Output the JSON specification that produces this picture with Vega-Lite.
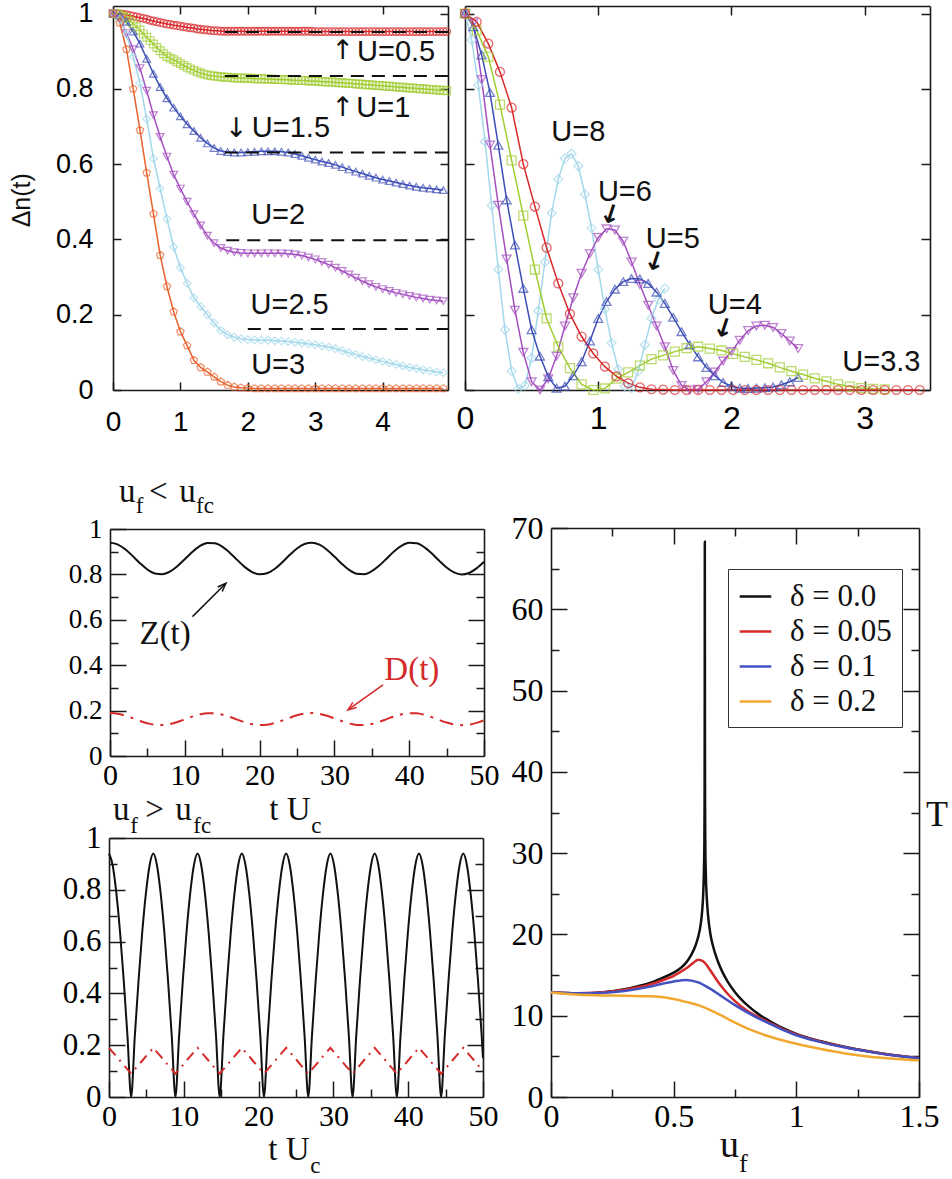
{
"$schema": "https://vega.github.io/schema/vega-lite/v6.json",
"background": "white",
"width": 952, "height": 1179,
"autosize": {"type": "none"},
"padding": 0,
"config": {
  "view": {"stroke": null},
  "axis": {"domain": false, "grid": false, "tickColor": "#1a1a1a", "tickWidth": 1.5, "domainColor": "#1a1a1a", "domainWidth": 1.6, "labelColor": "black", "labelFlush": false, "labelOverlap": false, "labelBound": false}
},
"datasets": {
"tl": [
{"s":"0.5","t":0,"v":1},{"s":"0.5","t":0.05,"v":0.9995},{"s":"0.5","t":0.1,"v":0.999},{"s":"0.5","t":0.15,"v":0.998},{"s":"0.5","t":0.2,"v":0.997},{"s":"0.5","t":0.25,"v":0.995},{"s":"0.5","t":0.3,"v":0.993},{"s":"0.5","t":0.35,"v":0.991},{"s":"0.5","t":0.4,"v":0.989},{"s":"0.5","t":0.45,"v":0.987},{"s":"0.5","t":0.5,"v":0.985},{"s":"0.5","t":0.55,"v":0.982},{"s":"0.5","t":0.6,"v":0.98},{"s":"0.5","t":0.65,"v":0.978},{"s":"0.5","t":0.7,"v":0.976},{"s":"0.5","t":0.75,"v":0.974},{"s":"0.5","t":0.8,"v":0.972},{"s":"0.5","t":0.85,"v":0.971},{"s":"0.5","t":0.9,"v":0.969},{"s":"0.5","t":0.95,"v":0.968},{"s":"0.5","t":1,"v":0.966},{"s":"0.5","t":1.05,"v":0.965},{"s":"0.5","t":1.1,"v":0.963},{"s":"0.5","t":1.15,"v":0.962},{"s":"0.5","t":1.2,"v":0.961},{"s":"0.5","t":1.25,"v":0.959},{"s":"0.5","t":1.3,"v":0.958},{"s":"0.5","t":1.35,"v":0.957},{"s":"0.5","t":1.4,"v":0.956},{"s":"0.5","t":1.45,"v":0.955},{"s":"0.5","t":1.5,"v":0.954},{"s":"0.5","t":1.55,"v":0.954},{"s":"0.5","t":1.6,"v":0.953},{"s":"0.5","t":1.65,"v":0.953},{"s":"0.5","t":1.7,"v":0.953},{"s":"0.5","t":1.75,"v":0.953},{"s":"0.5","t":1.8,"v":0.953},{"s":"0.5","t":1.85,"v":0.953},{"s":"0.5","t":1.9,"v":0.953},{"s":"0.5","t":1.95,"v":0.953},{"s":"0.5","t":2,"v":0.953},{"s":"0.5","t":2.05,"v":0.953},{"s":"0.5","t":2.1,"v":0.953},{"s":"0.5","t":2.15,"v":0.953},{"s":"0.5","t":2.2,"v":0.953},{"s":"0.5","t":2.25,"v":0.953},{"s":"0.5","t":2.3,"v":0.953},{"s":"0.5","t":2.35,"v":0.953},{"s":"0.5","t":2.4,"v":0.953},{"s":"0.5","t":2.45,"v":0.953},{"s":"0.5","t":2.5,"v":0.953},{"s":"0.5","t":2.55,"v":0.953},{"s":"0.5","t":2.6,"v":0.953},{"s":"0.5","t":2.65,"v":0.953},{"s":"0.5","t":2.7,"v":0.953},{"s":"0.5","t":2.75,"v":0.953},{"s":"0.5","t":2.8,"v":0.953},{"s":"0.5","t":2.85,"v":0.953},{"s":"0.5","t":2.9,"v":0.953},{"s":"0.5","t":2.95,"v":0.953},{"s":"0.5","t":3,"v":0.952},{"s":"0.5","t":3.05,"v":0.952},{"s":"0.5","t":3.1,"v":0.952},{"s":"0.5","t":3.15,"v":0.952},{"s":"0.5","t":3.2,"v":0.952},{"s":"0.5","t":3.25,"v":0.952},{"s":"0.5","t":3.3,"v":0.952},{"s":"0.5","t":3.35,"v":0.952},{"s":"0.5","t":3.4,"v":0.952},{"s":"0.5","t":3.45,"v":0.952},{"s":"0.5","t":3.5,"v":0.952},{"s":"0.5","t":3.55,"v":0.952},{"s":"0.5","t":3.6,"v":0.952},{"s":"0.5","t":3.65,"v":0.952},{"s":"0.5","t":3.7,"v":0.952},{"s":"0.5","t":3.75,"v":0.952},{"s":"0.5","t":3.8,"v":0.952},{"s":"0.5","t":3.85,"v":0.952},{"s":"0.5","t":3.9,"v":0.952},{"s":"0.5","t":3.95,"v":0.952},{"s":"0.5","t":4,"v":0.952},{"s":"0.5","t":4.05,"v":0.952},{"s":"0.5","t":4.1,"v":0.952},{"s":"0.5","t":4.15,"v":0.952},{"s":"0.5","t":4.2,"v":0.952},{"s":"0.5","t":4.25,"v":0.952},{"s":"0.5","t":4.3,"v":0.952},{"s":"0.5","t":4.35,"v":0.952},{"s":"0.5","t":4.4,"v":0.952},{"s":"0.5","t":4.45,"v":0.952},{"s":"0.5","t":4.5,"v":0.952},{"s":"0.5","t":4.55,"v":0.952},{"s":"0.5","t":4.6,"v":0.952},{"s":"0.5","t":4.65,"v":0.952},{"s":"0.5","t":4.7,"v":0.952},{"s":"0.5","t":4.75,"v":0.952},{"s":"0.5","t":4.8,"v":0.952},{"s":"0.5","t":4.85,"v":0.952},{"s":"0.5","t":4.9,"v":0.952},{"s":"0.5","t":4.95,"v":0.952},
{"s":"1","t":0,"v":1},{"s":"1","t":0.05,"v":0.999},{"s":"1","t":0.1,"v":0.997},{"s":"1","t":0.15,"v":0.993},{"s":"1","t":0.2,"v":0.988},{"s":"1","t":0.25,"v":0.981},{"s":"1","t":0.3,"v":0.973},{"s":"1","t":0.35,"v":0.965},{"s":"1","t":0.4,"v":0.956},{"s":"1","t":0.45,"v":0.946},{"s":"1","t":0.5,"v":0.937},{"s":"1","t":0.55,"v":0.928},{"s":"1","t":0.6,"v":0.919},{"s":"1","t":0.65,"v":0.91},{"s":"1","t":0.7,"v":0.901},{"s":"1","t":0.75,"v":0.893},{"s":"1","t":0.8,"v":0.886},{"s":"1","t":0.85,"v":0.881},{"s":"1","t":0.9,"v":0.877},{"s":"1","t":0.95,"v":0.872},{"s":"1","t":1,"v":0.867},{"s":"1","t":1.05,"v":0.862},{"s":"1","t":1.1,"v":0.857},{"s":"1","t":1.15,"v":0.853},{"s":"1","t":1.2,"v":0.849},{"s":"1","t":1.25,"v":0.845},{"s":"1","t":1.3,"v":0.842},{"s":"1","t":1.35,"v":0.839},{"s":"1","t":1.4,"v":0.837},{"s":"1","t":1.45,"v":0.835},{"s":"1","t":1.5,"v":0.834},{"s":"1","t":1.55,"v":0.833},{"s":"1","t":1.6,"v":0.832},{"s":"1","t":1.65,"v":0.831},{"s":"1","t":1.7,"v":0.831},{"s":"1","t":1.75,"v":0.83},{"s":"1","t":1.8,"v":0.829},{"s":"1","t":1.85,"v":0.829},{"s":"1","t":1.9,"v":0.829},{"s":"1","t":1.95,"v":0.828},{"s":"1","t":2,"v":0.828},{"s":"1","t":2.05,"v":0.828},{"s":"1","t":2.1,"v":0.827},{"s":"1","t":2.15,"v":0.827},{"s":"1","t":2.2,"v":0.827},{"s":"1","t":2.25,"v":0.826},{"s":"1","t":2.3,"v":0.826},{"s":"1","t":2.35,"v":0.826},{"s":"1","t":2.4,"v":0.825},{"s":"1","t":2.45,"v":0.825},{"s":"1","t":2.5,"v":0.825},{"s":"1","t":2.55,"v":0.824},{"s":"1","t":2.6,"v":0.824},{"s":"1","t":2.65,"v":0.823},{"s":"1","t":2.7,"v":0.823},{"s":"1","t":2.75,"v":0.822},{"s":"1","t":2.8,"v":0.822},{"s":"1","t":2.85,"v":0.822},{"s":"1","t":2.9,"v":0.821},{"s":"1","t":2.95,"v":0.821},{"s":"1","t":3,"v":0.821},{"s":"1","t":3.05,"v":0.82},{"s":"1","t":3.1,"v":0.819},{"s":"1","t":3.15,"v":0.819},{"s":"1","t":3.2,"v":0.818},{"s":"1","t":3.25,"v":0.818},{"s":"1","t":3.3,"v":0.817},{"s":"1","t":3.35,"v":0.816},{"s":"1","t":3.4,"v":0.816},{"s":"1","t":3.45,"v":0.815},{"s":"1","t":3.5,"v":0.815},{"s":"1","t":3.55,"v":0.814},{"s":"1","t":3.6,"v":0.813},{"s":"1","t":3.65,"v":0.813},{"s":"1","t":3.7,"v":0.812},{"s":"1","t":3.75,"v":0.811},{"s":"1","t":3.8,"v":0.811},{"s":"1","t":3.85,"v":0.81},{"s":"1","t":3.9,"v":0.809},{"s":"1","t":3.95,"v":0.809},{"s":"1","t":4,"v":0.808},{"s":"1","t":4.05,"v":0.807},{"s":"1","t":4.1,"v":0.807},{"s":"1","t":4.15,"v":0.806},{"s":"1","t":4.2,"v":0.805},{"s":"1","t":4.25,"v":0.804},{"s":"1","t":4.3,"v":0.804},{"s":"1","t":4.35,"v":0.803},{"s":"1","t":4.4,"v":0.802},{"s":"1","t":4.45,"v":0.802},{"s":"1","t":4.5,"v":0.801},{"s":"1","t":4.55,"v":0.8},{"s":"1","t":4.6,"v":0.8},{"s":"1","t":4.65,"v":0.799},{"s":"1","t":4.7,"v":0.798},{"s":"1","t":4.75,"v":0.798},{"s":"1","t":4.8,"v":0.797},{"s":"1","t":4.85,"v":0.796},{"s":"1","t":4.9,"v":0.796},{"s":"1","t":4.95,"v":0.795},
{"s":"1.5","t":0,"v":1},{"s":"1.5","t":0.1,"v":0.995},{"s":"1.5","t":0.2,"v":0.978},{"s":"1.5","t":0.3,"v":0.952},{"s":"1.5","t":0.4,"v":0.92},{"s":"1.5","t":0.5,"v":0.88},{"s":"1.5","t":0.6,"v":0.84},{"s":"1.5","t":0.7,"v":0.805},{"s":"1.5","t":0.8,"v":0.775},{"s":"1.5","t":0.9,"v":0.75},{"s":"1.5","t":1,"v":0.727},{"s":"1.5","t":1.1,"v":0.706},{"s":"1.5","t":1.2,"v":0.688},{"s":"1.5","t":1.3,"v":0.67},{"s":"1.5","t":1.4,"v":0.655},{"s":"1.5","t":1.5,"v":0.643},{"s":"1.5","t":1.6,"v":0.635},{"s":"1.5","t":1.7,"v":0.632},{"s":"1.5","t":1.8,"v":0.631},{"s":"1.5","t":1.9,"v":0.631},{"s":"1.5","t":2,"v":0.632},{"s":"1.5","t":2.1,"v":0.633},{"s":"1.5","t":2.2,"v":0.634},{"s":"1.5","t":2.3,"v":0.634},{"s":"1.5","t":2.4,"v":0.634},{"s":"1.5","t":2.5,"v":0.633},{"s":"1.5","t":2.6,"v":0.631},{"s":"1.5","t":2.7,"v":0.627},{"s":"1.5","t":2.8,"v":0.622},{"s":"1.5","t":2.9,"v":0.617},{"s":"1.5","t":3,"v":0.612},{"s":"1.5","t":3.1,"v":0.607},{"s":"1.5","t":3.2,"v":0.603},{"s":"1.5","t":3.3,"v":0.598},{"s":"1.5","t":3.4,"v":0.592},{"s":"1.5","t":3.5,"v":0.586},{"s":"1.5","t":3.6,"v":0.58},{"s":"1.5","t":3.7,"v":0.575},{"s":"1.5","t":3.8,"v":0.569},{"s":"1.5","t":3.9,"v":0.564},{"s":"1.5","t":4,"v":0.559},{"s":"1.5","t":4.1,"v":0.555},{"s":"1.5","t":4.2,"v":0.551},{"s":"1.5","t":4.3,"v":0.547},{"s":"1.5","t":4.4,"v":0.543},{"s":"1.5","t":4.5,"v":0.54},{"s":"1.5","t":4.6,"v":0.537},{"s":"1.5","t":4.7,"v":0.535},{"s":"1.5","t":4.8,"v":0.533},{"s":"1.5","t":4.9,"v":0.531},
{"s":"2","t":0,"v":1},{"s":"2","t":0.1,"v":0.985},{"s":"2","t":0.2,"v":0.948},{"s":"2","t":0.3,"v":0.905},{"s":"2","t":0.4,"v":0.855},{"s":"2","t":0.5,"v":0.795},{"s":"2","t":0.6,"v":0.73},{"s":"2","t":0.7,"v":0.672},{"s":"2","t":0.8,"v":0.62},{"s":"2","t":0.9,"v":0.572},{"s":"2","t":1,"v":0.535},{"s":"2","t":1.1,"v":0.5},{"s":"2","t":1.2,"v":0.467},{"s":"2","t":1.3,"v":0.437},{"s":"2","t":1.4,"v":0.41},{"s":"2","t":1.5,"v":0.39},{"s":"2","t":1.6,"v":0.377},{"s":"2","t":1.7,"v":0.37},{"s":"2","t":1.8,"v":0.366},{"s":"2","t":1.9,"v":0.364},{"s":"2","t":2,"v":0.363},{"s":"2","t":2.1,"v":0.363},{"s":"2","t":2.2,"v":0.363},{"s":"2","t":2.3,"v":0.363},{"s":"2","t":2.4,"v":0.363},{"s":"2","t":2.5,"v":0.363},{"s":"2","t":2.6,"v":0.362},{"s":"2","t":2.7,"v":0.36},{"s":"2","t":2.8,"v":0.357},{"s":"2","t":2.9,"v":0.352},{"s":"2","t":3,"v":0.347},{"s":"2","t":3.1,"v":0.34},{"s":"2","t":3.2,"v":0.333},{"s":"2","t":3.3,"v":0.325},{"s":"2","t":3.4,"v":0.316},{"s":"2","t":3.5,"v":0.307},{"s":"2","t":3.6,"v":0.298},{"s":"2","t":3.7,"v":0.289},{"s":"2","t":3.8,"v":0.281},{"s":"2","t":3.9,"v":0.274},{"s":"2","t":4,"v":0.268},{"s":"2","t":4.1,"v":0.263},{"s":"2","t":4.2,"v":0.258},{"s":"2","t":4.3,"v":0.254},{"s":"2","t":4.4,"v":0.25},{"s":"2","t":4.5,"v":0.246},{"s":"2","t":4.6,"v":0.243},{"s":"2","t":4.7,"v":0.24},{"s":"2","t":4.8,"v":0.238},{"s":"2","t":4.9,"v":0.236},
{"s":"2.5","t":0,"v":1},{"s":"2.5","t":0.1,"v":0.985},{"s":"2.5","t":0.2,"v":0.945},{"s":"2.5","t":0.3,"v":0.885},{"s":"2.5","t":0.4,"v":0.815},{"s":"2.5","t":0.5,"v":0.72},{"s":"2.5","t":0.6,"v":0.615},{"s":"2.5","t":0.7,"v":0.535},{"s":"2.5","t":0.8,"v":0.455},{"s":"2.5","t":0.9,"v":0.38},{"s":"2.5","t":1,"v":0.325},{"s":"2.5","t":1.1,"v":0.283},{"s":"2.5","t":1.2,"v":0.245},{"s":"2.5","t":1.3,"v":0.222},{"s":"2.5","t":1.4,"v":0.2},{"s":"2.5","t":1.5,"v":0.178},{"s":"2.5","t":1.6,"v":0.158},{"s":"2.5","t":1.7,"v":0.147},{"s":"2.5","t":1.8,"v":0.14},{"s":"2.5","t":1.9,"v":0.136},{"s":"2.5","t":2,"v":0.134},{"s":"2.5","t":2.1,"v":0.133},{"s":"2.5","t":2.2,"v":0.132},{"s":"2.5","t":2.3,"v":0.132},{"s":"2.5","t":2.4,"v":0.131},{"s":"2.5","t":2.5,"v":0.13},{"s":"2.5","t":2.6,"v":0.129},{"s":"2.5","t":2.7,"v":0.127},{"s":"2.5","t":2.8,"v":0.125},{"s":"2.5","t":2.9,"v":0.122},{"s":"2.5","t":3,"v":0.12},{"s":"2.5","t":3.1,"v":0.117},{"s":"2.5","t":3.2,"v":0.114},{"s":"2.5","t":3.3,"v":0.11},{"s":"2.5","t":3.4,"v":0.104},{"s":"2.5","t":3.5,"v":0.099},{"s":"2.5","t":3.6,"v":0.094},{"s":"2.5","t":3.7,"v":0.089},{"s":"2.5","t":3.8,"v":0.085},{"s":"2.5","t":3.9,"v":0.08},{"s":"2.5","t":4,"v":0.076},{"s":"2.5","t":4.1,"v":0.072},{"s":"2.5","t":4.2,"v":0.068},{"s":"2.5","t":4.3,"v":0.064},{"s":"2.5","t":4.4,"v":0.06},{"s":"2.5","t":4.5,"v":0.057},{"s":"2.5","t":4.6,"v":0.054},{"s":"2.5","t":4.7,"v":0.051},{"s":"2.5","t":4.8,"v":0.048},{"s":"2.5","t":4.9,"v":0.046},
{"s":"3","t":0,"v":1},{"s":"3","t":0.1,"v":0.975},{"s":"3","t":0.2,"v":0.905},{"s":"3","t":0.3,"v":0.8},{"s":"3","t":0.4,"v":0.69},{"s":"3","t":0.5,"v":0.577},{"s":"3","t":0.6,"v":0.468},{"s":"3","t":0.7,"v":0.358},{"s":"3","t":0.8,"v":0.275},{"s":"3","t":0.9,"v":0.208},{"s":"3","t":1,"v":0.155},{"s":"3","t":1.1,"v":0.118},{"s":"3","t":1.2,"v":0.079},{"s":"3","t":1.3,"v":0.06},{"s":"3","t":1.4,"v":0.048},{"s":"3","t":1.5,"v":0.035},{"s":"3","t":1.6,"v":0.022},{"s":"3","t":1.7,"v":0.013},{"s":"3","t":1.8,"v":0.008},{"s":"3","t":1.9,"v":0.006},{"s":"3","t":2,"v":0.005},{"s":"3","t":2.1,"v":0.004},{"s":"3","t":2.2,"v":0.004},{"s":"3","t":2.3,"v":0.004},{"s":"3","t":2.4,"v":0.004},{"s":"3","t":2.5,"v":0.004},{"s":"3","t":2.6,"v":0.004},{"s":"3","t":2.7,"v":0.004},{"s":"3","t":2.8,"v":0.004},{"s":"3","t":2.9,"v":0.004},{"s":"3","t":3,"v":0.004},{"s":"3","t":3.1,"v":0.004},{"s":"3","t":3.2,"v":0.004},{"s":"3","t":3.3,"v":0.004},{"s":"3","t":3.4,"v":0.004},{"s":"3","t":3.5,"v":0.004},{"s":"3","t":3.6,"v":0.004},{"s":"3","t":3.7,"v":0.004},{"s":"3","t":3.8,"v":0.004},{"s":"3","t":3.9,"v":0.004},{"s":"3","t":4,"v":0.004},{"s":"3","t":4.1,"v":0.004},{"s":"3","t":4.2,"v":0.004},{"s":"3","t":4.3,"v":0.004},{"s":"3","t":4.4,"v":0.004},{"s":"3","t":4.5,"v":0.004},{"s":"3","t":4.6,"v":0.004},{"s":"3","t":4.7,"v":0.004},{"s":"3","t":4.8,"v":0.004},{"s":"3","t":4.9,"v":0.004}
],
"tld": [{"a":1.66,"b":4.97,"v":0.951},{"a":1.66,"b":4.97,"v":0.834},{"a":1.66,"b":4.97,"v":0.631},{"a":1.68,"b":4.97,"v":0.398},{"a":2.0,"b":4.97,"v":0.162}],
"tll": [{"x":4.2,"y":0.898,"txt":"U=0.5"},{"x":4.01,"y":0.748,"txt":"U=1"},{"x":2.64,"y":0.695,"txt":"U=1.5"},{"x":2.45,"y":0.465,"txt":"U=2"},{"x":2.62,"y":0.226,"txt":"U=2.5"},{"x":2.45,"y":0.066,"txt":"U=3"}],
"tla": [{"x":3.41,"y":0.9,"txt":"↑"},{"x":3.41,"y":0.75,"txt":"↑"},{"x":1.83,"y":0.693,"txt":"↓"}],
"tly": [{"x":-1.35,"y":0.504,"txt":"Δn(t)"}],
"tr": [
{"s":"8","t":0,"v":1},{"s":"8","t":0.05,"v":0.93},{"s":"8","t":0.1,"v":0.81},{"s":"8","t":0.15,"v":0.66},{"s":"8","t":0.2,"v":0.49},{"s":"8","t":0.25,"v":0.32},{"s":"8","t":0.3,"v":0.16},{"s":"8","t":0.35,"v":0.05},{"s":"8","t":0.4,"v":0.003},{"s":"8","t":0.45,"v":0.012},{"s":"8","t":0.5,"v":0.085},{"s":"8","t":0.55,"v":0.21},{"s":"8","t":0.6,"v":0.34},{"s":"8","t":0.65,"v":0.47},{"s":"8","t":0.7,"v":0.56},{"s":"8","t":0.75,"v":0.615},{"s":"8","t":0.8,"v":0.628},{"s":"8","t":0.85,"v":0.595},{"s":"8","t":0.9,"v":0.52},{"s":"8","t":0.95,"v":0.43},{"s":"8","t":1,"v":0.32},{"s":"8","t":1.05,"v":0.215},{"s":"8","t":1.1,"v":0.125},{"s":"8","t":1.15,"v":0.055},{"s":"8","t":1.2,"v":0.01},{"s":"8","t":1.25,"v":0.005},{"s":"8","t":1.3,"v":0.05},{"s":"8","t":1.35,"v":0.12},{"s":"8","t":1.4,"v":0.19},{"s":"8","t":1.45,"v":0.24},{"s":"8","t":1.5,"v":0.27},
{"s":"6","t":0,"v":1},{"s":"6","t":0.0625,"v":0.975},{"s":"6","t":0.125,"v":0.825},{"s":"6","t":0.1875,"v":0.651},{"s":"6","t":0.25,"v":0.491},{"s":"6","t":0.3125,"v":0.348},{"s":"6","t":0.375,"v":0.212},{"s":"6","t":0.4375,"v":0.1},{"s":"6","t":0.5,"v":0.022},{"s":"6","t":0.5625,"v":0},{"s":"6","t":0.625,"v":0.03},{"s":"6","t":0.6875,"v":0.09},{"s":"6","t":0.75,"v":0.17},{"s":"6","t":0.8125,"v":0.245},{"s":"6","t":0.875,"v":0.31},{"s":"6","t":0.9375,"v":0.362},{"s":"6","t":1,"v":0.405},{"s":"6","t":1.0625,"v":0.428},{"s":"6","t":1.125,"v":0.425},{"s":"6","t":1.1875,"v":0.395},{"s":"6","t":1.25,"v":0.34},{"s":"6","t":1.3125,"v":0.28},{"s":"6","t":1.375,"v":0.225},{"s":"6","t":1.4375,"v":0.17},{"s":"6","t":1.5,"v":0.115},{"s":"6","t":1.5625,"v":0.052},{"s":"6","t":1.625,"v":0.012},{"s":"6","t":1.6875,"v":0},{"s":"6","t":1.75,"v":0.002},{"s":"6","t":1.8125,"v":0.022},{"s":"6","t":1.875,"v":0.048},{"s":"6","t":1.9375,"v":0.077},{"s":"6","t":2,"v":0.102},{"s":"6","t":2.0625,"v":0.132},{"s":"6","t":2.125,"v":0.158},{"s":"6","t":2.1875,"v":0.17},{"s":"6","t":2.25,"v":0.172},{"s":"6","t":2.3125,"v":0.166},{"s":"6","t":2.375,"v":0.15},{"s":"6","t":2.4375,"v":0.13},{"s":"6","t":2.5,"v":0.11},
{"s":"5","t":0,"v":1},{"s":"5","t":0.0625,"v":0.965},{"s":"5","t":0.125,"v":0.89},{"s":"5","t":0.1875,"v":0.79},{"s":"5","t":0.25,"v":0.65},{"s":"5","t":0.3125,"v":0.505},{"s":"5","t":0.375,"v":0.385},{"s":"5","t":0.4375,"v":0.27},{"s":"5","t":0.5,"v":0.16},{"s":"5","t":0.5625,"v":0.09},{"s":"5","t":0.625,"v":0.035},{"s":"5","t":0.6875,"v":0.005},{"s":"5","t":0.75,"v":0.01},{"s":"5","t":0.8125,"v":0.038},{"s":"5","t":0.875,"v":0.075},{"s":"5","t":0.9375,"v":0.13},{"s":"5","t":1,"v":0.19},{"s":"5","t":1.0625,"v":0.235},{"s":"5","t":1.125,"v":0.268},{"s":"5","t":1.1875,"v":0.288},{"s":"5","t":1.25,"v":0.296},{"s":"5","t":1.3125,"v":0.295},{"s":"5","t":1.375,"v":0.283},{"s":"5","t":1.4375,"v":0.26},{"s":"5","t":1.5,"v":0.23},{"s":"5","t":1.5625,"v":0.193},{"s":"5","t":1.625,"v":0.155},{"s":"5","t":1.6875,"v":0.12},{"s":"5","t":1.75,"v":0.088},{"s":"5","t":1.8125,"v":0.06},{"s":"5","t":1.875,"v":0.038},{"s":"5","t":1.9375,"v":0.02},{"s":"5","t":2,"v":0.01},{"s":"5","t":2.0625,"v":0.005},{"s":"5","t":2.125,"v":0.004},{"s":"5","t":2.1875,"v":0.005},{"s":"5","t":2.25,"v":0.006},{"s":"5","t":2.3125,"v":0.008},{"s":"5","t":2.375,"v":0.014},{"s":"5","t":2.4375,"v":0.022},{"s":"5","t":2.5,"v":0.033},
{"s":"4","t":0,"v":1},{"s":"4","t":0.0875,"v":0.955},{"s":"4","t":0.175,"v":0.885},{"s":"4","t":0.2625,"v":0.758},{"s":"4","t":0.35,"v":0.61},{"s":"4","t":0.4375,"v":0.463},{"s":"4","t":0.525,"v":0.32},{"s":"4","t":0.6125,"v":0.19},{"s":"4","t":0.7,"v":0.115},{"s":"4","t":0.7875,"v":0.058},{"s":"4","t":0.875,"v":0.015},{"s":"4","t":0.9625,"v":0},{"s":"4","t":1.05,"v":0.004},{"s":"4","t":1.1375,"v":0.03},{"s":"4","t":1.225,"v":0.047},{"s":"4","t":1.3125,"v":0.065},{"s":"4","t":1.4,"v":0.082},{"s":"4","t":1.4875,"v":0.092},{"s":"4","t":1.575,"v":0.102},{"s":"4","t":1.6625,"v":0.111},{"s":"4","t":1.75,"v":0.115},{"s":"4","t":1.8375,"v":0.11},{"s":"4","t":1.925,"v":0.105},{"s":"4","t":2.0125,"v":0.096},{"s":"4","t":2.1,"v":0.088},{"s":"4","t":2.1875,"v":0.08},{"s":"4","t":2.275,"v":0.071},{"s":"4","t":2.3625,"v":0.06},{"s":"4","t":2.45,"v":0.05},{"s":"4","t":2.5375,"v":0.041},{"s":"4","t":2.625,"v":0.031},{"s":"4","t":2.7125,"v":0.023},{"s":"4","t":2.8,"v":0.015},{"s":"4","t":2.8875,"v":0.009},{"s":"4","t":2.975,"v":0.005},{"s":"4","t":3.0625,"v":0.003},{"s":"4","t":3.15,"v":0.002},
{"s":"3.3","t":0,"v":1},{"s":"3.3","t":0.0875,"v":0.978},{"s":"3.3","t":0.175,"v":0.92},{"s":"3.3","t":0.2625,"v":0.845},{"s":"3.3","t":0.35,"v":0.75},{"s":"3.3","t":0.4375,"v":0.6},{"s":"3.3","t":0.525,"v":0.487},{"s":"3.3","t":0.6125,"v":0.378},{"s":"3.3","t":0.7,"v":0.283},{"s":"3.3","t":0.7875,"v":0.202},{"s":"3.3","t":0.875,"v":0.142},{"s":"3.3","t":0.9625,"v":0.097},{"s":"3.3","t":1.05,"v":0.062},{"s":"3.3","t":1.1375,"v":0.036},{"s":"3.3","t":1.225,"v":0.018},{"s":"3.3","t":1.3125,"v":0.007},{"s":"3.3","t":1.4,"v":0.002},{"s":"3.3","t":1.4875,"v":0.001},{"s":"3.3","t":1.575,"v":0},{"s":"3.3","t":1.6625,"v":0},{"s":"3.3","t":1.75,"v":0},{"s":"3.3","t":1.8375,"v":0},{"s":"3.3","t":1.925,"v":0},{"s":"3.3","t":2.0125,"v":0},{"s":"3.3","t":2.1,"v":0},{"s":"3.3","t":2.1875,"v":0},{"s":"3.3","t":2.275,"v":0},{"s":"3.3","t":2.3625,"v":0},{"s":"3.3","t":2.45,"v":0},{"s":"3.3","t":2.5375,"v":0},{"s":"3.3","t":2.625,"v":0},{"s":"3.3","t":2.7125,"v":0},{"s":"3.3","t":2.8,"v":0},{"s":"3.3","t":2.8875,"v":0},{"s":"3.3","t":2.975,"v":0},{"s":"3.3","t":3.0625,"v":0},{"s":"3.3","t":3.15,"v":0},{"s":"3.3","t":3.2375,"v":0},{"s":"3.3","t":3.325,"v":0},{"s":"3.3","t":3.4125,"v":0}
],
"trl": [{"x":0.85,"y":0.686,"txt":"U=8"},{"x":1.2,"y":0.527,"txt":"U=6"},{"x":1.56,"y":0.4,"txt":"U=5"},{"x":2.025,"y":0.226,"txt":"U=4"},{"x":3.125,"y":0.075,"txt":"U=3.3"}],
"tra": [{"x":1.09,"y":0.465,"txt":"↓"},{"x":1.425,"y":0.34,"txt":"↓"},{"x":1.94,"y":0.163,"txt":"↓"}],
"bl1": [
{"t":0,"z":0.94,"d":0.189},{"t":1,"z":0.9325,"d":0.1862},{"t":2,"z":0.9116,"d":0.1782},{"t":3,"z":0.8818,"d":0.167},{"t":4,"z":0.8495,"d":0.1547},{"t":5,"z":0.8215,"d":0.1442},{"t":6,"z":0.804,"d":0.1375},{"t":7,"z":0.8006,"d":0.1362},{"t":8,"z":0.812,"d":0.1406},{"t":9,"z":0.836,"d":0.1496},{"t":10,"z":0.8671,"d":0.1614},{"t":11,"z":0.899,"d":0.1735},{"t":12,"z":0.9245,"d":0.1831},{"t":13,"z":0.9385,"d":0.1884},{"t":14,"z":0.9377,"d":0.1881},{"t":15,"z":0.9224,"d":0.1824},{"t":16,"z":0.8959,"d":0.1723},{"t":17,"z":0.8639,"d":0.1602},{"t":18,"z":0.8331,"d":0.1485},{"t":19,"z":0.8103,"d":0.1399},{"t":20,"z":0.8002,"d":0.1361},{"t":21,"z":0.8051,"d":0.1379},{"t":22,"z":0.8239,"d":0.145},{"t":23,"z":0.8526,"d":0.1559},{"t":24,"z":0.885,"d":0.1682},{"t":25,"z":0.9142,"d":0.1792},{"t":26,"z":0.9339,"d":0.1867},{"t":27,"z":0.9399,"d":0.189},{"t":28,"z":0.931,"d":0.1856},{"t":29,"z":0.9089,"d":0.1772},{"t":30,"z":0.8786,"d":0.1657},{"t":31,"z":0.8463,"d":0.1535},{"t":32,"z":0.8192,"d":0.1433},{"t":33,"z":0.803,"d":0.1371},{"t":34,"z":0.8011,"d":0.1364},{"t":35,"z":0.814,"d":0.1413},{"t":36,"z":0.8389,"d":0.1507},{"t":37,"z":0.8704,"d":0.1627},{"t":38,"z":0.9019,"d":0.1746},{"t":39,"z":0.9265,"d":0.1839},{"t":40,"z":0.9391,"d":0.1886},{"t":41,"z":0.9368,"d":0.1878},{"t":42,"z":0.9202,"d":0.1815},{"t":43,"z":0.8929,"d":0.1712},{"t":44,"z":0.8606,"d":0.159},{"t":45,"z":0.8304,"d":0.1475},{"t":46,"z":0.8086,"d":0.1393},{"t":47,"z":0.8,"d":0.136},{"t":48,"z":0.8064,"d":0.1384},{"t":49,"z":0.8264,"d":0.146},{"t":50,"z":0.8558,"d":0.1571}
],
"bl2": [
{"t":0,"z":0.94,"d":0.19},{"t":0.49,"z":0.895,"d":0.173},{"t":0.99,"z":0.785,"d":0.157},{"t":1.48,"z":0.635,"d":0.14},{"t":1.97,"z":0.45,"d":0.123},{"t":2.47,"z":0.235,"d":0.107},{"t":2.96,"z":0,"d":0.09},{"t":3.45,"z":0.235,"d":0.107},{"t":3.95,"z":0.45,"d":0.123},{"t":4.44,"z":0.635,"d":0.14},{"t":4.93,"z":0.785,"d":0.157},{"t":5.43,"z":0.895,"d":0.173},
{"t":5.92,"z":0.94,"d":0.19},{"t":6.41,"z":0.895,"d":0.173},{"t":6.91,"z":0.785,"d":0.157},{"t":7.4,"z":0.635,"d":0.14},{"t":7.89,"z":0.45,"d":0.123},{"t":8.39,"z":0.235,"d":0.107},{"t":8.88,"z":0,"d":0.09},{"t":9.37,"z":0.235,"d":0.107},{"t":9.87,"z":0.45,"d":0.123},{"t":10.36,"z":0.635,"d":0.14},{"t":10.85,"z":0.785,"d":0.157},{"t":11.35,"z":0.895,"d":0.173},
{"t":11.84,"z":0.94,"d":0.19},{"t":12.33,"z":0.895,"d":0.173},{"t":12.83,"z":0.785,"d":0.157},{"t":13.32,"z":0.635,"d":0.14},{"t":13.81,"z":0.45,"d":0.123},{"t":14.31,"z":0.235,"d":0.107},{"t":14.8,"z":0,"d":0.09},{"t":15.29,"z":0.235,"d":0.107},{"t":15.79,"z":0.45,"d":0.123},{"t":16.28,"z":0.635,"d":0.14},{"t":16.77,"z":0.785,"d":0.157},{"t":17.27,"z":0.895,"d":0.173},
{"t":17.76,"z":0.94,"d":0.19},{"t":18.25,"z":0.895,"d":0.173},{"t":18.75,"z":0.785,"d":0.157},{"t":19.24,"z":0.635,"d":0.14},{"t":19.73,"z":0.45,"d":0.123},{"t":20.23,"z":0.235,"d":0.107},{"t":20.72,"z":0,"d":0.09},{"t":21.21,"z":0.235,"d":0.107},{"t":21.71,"z":0.45,"d":0.123},{"t":22.2,"z":0.635,"d":0.14},{"t":22.69,"z":0.785,"d":0.157},{"t":23.19,"z":0.895,"d":0.173},
{"t":23.68,"z":0.94,"d":0.19},{"t":24.17,"z":0.895,"d":0.173},{"t":24.67,"z":0.785,"d":0.157},{"t":25.16,"z":0.635,"d":0.14},{"t":25.65,"z":0.45,"d":0.123},{"t":26.15,"z":0.235,"d":0.107},{"t":26.64,"z":0,"d":0.09},{"t":27.13,"z":0.235,"d":0.107},{"t":27.63,"z":0.45,"d":0.123},{"t":28.12,"z":0.635,"d":0.14},{"t":28.61,"z":0.785,"d":0.157},{"t":29.11,"z":0.895,"d":0.173},
{"t":29.6,"z":0.94,"d":0.19},{"t":30.09,"z":0.895,"d":0.173},{"t":30.59,"z":0.785,"d":0.157},{"t":31.08,"z":0.635,"d":0.14},{"t":31.57,"z":0.45,"d":0.123},{"t":32.07,"z":0.235,"d":0.107},{"t":32.56,"z":0,"d":0.09},{"t":33.05,"z":0.235,"d":0.107},{"t":33.55,"z":0.45,"d":0.123},{"t":34.04,"z":0.635,"d":0.14},{"t":34.53,"z":0.785,"d":0.157},{"t":35.03,"z":0.895,"d":0.173},
{"t":35.52,"z":0.94,"d":0.19},{"t":36.01,"z":0.895,"d":0.173},{"t":36.51,"z":0.785,"d":0.157},{"t":37.0,"z":0.635,"d":0.14},{"t":37.49,"z":0.45,"d":0.123},{"t":37.99,"z":0.235,"d":0.107},{"t":38.48,"z":0,"d":0.09},{"t":38.97,"z":0.235,"d":0.107},{"t":39.47,"z":0.45,"d":0.123},{"t":39.96,"z":0.635,"d":0.14},{"t":40.45,"z":0.785,"d":0.157},{"t":40.95,"z":0.895,"d":0.173},
{"t":41.44,"z":0.94,"d":0.19},{"t":41.93,"z":0.895,"d":0.173},{"t":42.43,"z":0.785,"d":0.157},{"t":42.92,"z":0.635,"d":0.14},{"t":43.41,"z":0.45,"d":0.123},{"t":43.91,"z":0.235,"d":0.107},{"t":44.4,"z":0,"d":0.09},{"t":44.89,"z":0.235,"d":0.107},{"t":45.39,"z":0.45,"d":0.123},{"t":45.88,"z":0.635,"d":0.14},{"t":46.37,"z":0.785,"d":0.157},{"t":46.87,"z":0.895,"d":0.173},
{"t":47.36,"z":0.94,"d":0.19},{"t":47.85,"z":0.895,"d":0.173},{"t":48.35,"z":0.785,"d":0.157},{"t":48.84,"z":0.635,"d":0.14},{"t":49.33,"z":0.45,"d":0.123},{"t":49.83,"z":0.235,"d":0.107},{"t":50,"z":0.15,"d":0.101}
],
"b1m": [{"x":1.21,"y":1.119,"txt":"u"},{"x":5.2,"y":1.119,"txt":"<"},{"x":9.25,"y":1.119,"txt":"u"},{"x":21.3,"y":-0.282,"txt":"t U"}],
"b1s": [{"x":3.45,"y":1.07,"txt":"f"},{"x":11.5,"y":1.07,"txt":"fc"},{"x":26.9,"y":-0.339,"txt":"c"}],
"b1z": [{"x":7.37,"y":0.537,"txt":"Z(t)"}],
"b1d": [{"x":40.35,"y":0.379,"txt":"D(t)"}],
"b1az": [{"x1":11.03,"y1":0.614,"x2":15.5,"y2":0.761}],
"b1ad": [{"x1":36.5,"y1":0.313,"x2":31.8,"y2":0.203}],
"b2m": [{"x":0.54,"y":1.069,"txt":"u"},{"x":4.83,"y":1.069,"txt":">"},{"x":8.85,"y":1.069,"txt":"u"},{"x":21.3,"y":-0.243,"txt":"t U"}],
"b2s": [{"x":2.85,"y":1.019,"txt":"f"},{"x":11.26,"y":1.019,"txt":"fc"},{"x":26.9,"y":-0.293,"txt":"c"}],
"br": [
{"d":"0.0","u":0,"T":12.85},{"d":"0.0","u":0.05,"T":12.8},{"d":"0.0","u":0.1,"T":12.75},{"d":"0.0","u":0.15,"T":12.75},{"d":"0.0","u":0.2,"T":12.85},{"d":"0.0","u":0.25,"T":13.0},{"d":"0.0","u":0.3,"T":13.25},{"d":"0.0","u":0.35,"T":13.6},{"d":"0.0","u":0.4,"T":14.0},{"d":"0.0","u":0.45,"T":14.6},{"d":"0.0","u":0.5,"T":15.3},{"d":"0.0","u":0.53,"T":15.9},{"d":"0.0","u":0.55,"T":16.5},{"d":"0.0","u":0.57,"T":17.4},{"d":"0.0","u":0.59,"T":18.7},{"d":"0.0","u":0.6,"T":19.7},{"d":"0.0","u":0.61,"T":21.2},{"d":"0.0","u":0.615,"T":22.5},{"d":"0.0","u":0.62,"T":24.7},{"d":"0.0","u":0.623,"T":27.5},{"d":"0.0","u":0.625,"T":31},{"d":"0.0","u":0.626,"T":36},{"d":"0.0","u":0.6265,"T":45},{"d":"0.0","u":0.627,"T":68.3},{"d":"0.0","u":0.6275,"T":45},{"d":"0.0","u":0.628,"T":36},{"d":"0.0","u":0.629,"T":31},{"d":"0.0","u":0.631,"T":27.5},{"d":"0.0","u":0.635,"T":24.5},{"d":"0.0","u":0.64,"T":22.4},{"d":"0.0","u":0.65,"T":20.0},{"d":"0.0","u":0.66,"T":18.6},{"d":"0.0","u":0.68,"T":16.7},{"d":"0.0","u":0.7,"T":15.3},{"d":"0.0","u":0.72,"T":14.2},{"d":"0.0","u":0.75,"T":12.9},{"d":"0.0","u":0.8,"T":11.3},{"d":"0.0","u":0.85,"T":10.1},{"d":"0.0","u":0.9,"T":9.2},{"d":"0.0","u":0.95,"T":8.4},{"d":"0.0","u":1.0,"T":7.75},{"d":"0.0","u":1.1,"T":6.85},{"d":"0.0","u":1.2,"T":6.15},{"d":"0.0","u":1.3,"T":5.6},{"d":"0.0","u":1.4,"T":5.15},{"d":"0.0","u":1.5,"T":4.8},
{"d":"0.05","u":0,"T":12.85},{"d":"0.05","u":0.1,"T":12.75},{"d":"0.05","u":0.2,"T":12.85},{"d":"0.05","u":0.3,"T":13.2},{"d":"0.05","u":0.4,"T":13.8},{"d":"0.05","u":0.45,"T":14.3},{"d":"0.05","u":0.5,"T":14.9},{"d":"0.05","u":0.55,"T":15.8},{"d":"0.05","u":0.58,"T":16.5},{"d":"0.05","u":0.6,"T":16.9},{"d":"0.05","u":0.62,"T":16.7},{"d":"0.05","u":0.64,"T":16.0},{"d":"0.05","u":0.66,"T":15.1},{"d":"0.05","u":0.68,"T":14.2},{"d":"0.05","u":0.7,"T":13.4},{"d":"0.05","u":0.72,"T":12.7},{"d":"0.05","u":0.75,"T":11.8},{"d":"0.05","u":0.8,"T":10.6},{"d":"0.05","u":0.85,"T":9.75},{"d":"0.05","u":0.9,"T":9.0},{"d":"0.05","u":0.95,"T":8.3},{"d":"0.05","u":1.0,"T":7.7},{"d":"0.05","u":1.1,"T":6.8},{"d":"0.05","u":1.2,"T":6.12},{"d":"0.05","u":1.3,"T":5.58},{"d":"0.05","u":1.4,"T":5.13},{"d":"0.05","u":1.5,"T":4.8},
{"d":"0.1","u":0,"T":12.85},{"d":"0.1","u":0.1,"T":12.75},{"d":"0.1","u":0.2,"T":12.8},{"d":"0.1","u":0.3,"T":13.05},{"d":"0.1","u":0.4,"T":13.55},{"d":"0.1","u":0.45,"T":13.9},{"d":"0.1","u":0.5,"T":14.2},{"d":"0.1","u":0.55,"T":14.4},{"d":"0.1","u":0.6,"T":14.1},{"d":"0.1","u":0.65,"T":13.3},{"d":"0.1","u":0.7,"T":12.3},{"d":"0.1","u":0.75,"T":11.3},{"d":"0.1","u":0.8,"T":10.4},{"d":"0.1","u":0.85,"T":9.6},{"d":"0.1","u":0.9,"T":8.9},{"d":"0.1","u":0.95,"T":8.2},{"d":"0.1","u":1.0,"T":7.6},{"d":"0.1","u":1.1,"T":6.75},{"d":"0.1","u":1.2,"T":6.08},{"d":"0.1","u":1.3,"T":5.55},{"d":"0.1","u":1.4,"T":5.1},{"d":"0.1","u":1.5,"T":4.78},
{"d":"0.2","u":0,"T":12.85},{"d":"0.2","u":0.1,"T":12.6},{"d":"0.2","u":0.2,"T":12.5},{"d":"0.2","u":0.3,"T":12.45},{"d":"0.2","u":0.4,"T":12.4},{"d":"0.2","u":0.45,"T":12.3},{"d":"0.2","u":0.5,"T":12.05},{"d":"0.2","u":0.55,"T":11.7},{"d":"0.2","u":0.6,"T":11.3},{"d":"0.2","u":0.65,"T":10.7},{"d":"0.2","u":0.7,"T":9.95},{"d":"0.2","u":0.75,"T":9.15},{"d":"0.2","u":0.8,"T":8.45},{"d":"0.2","u":0.85,"T":7.85},{"d":"0.2","u":0.9,"T":7.35},{"d":"0.2","u":1.0,"T":6.55},{"d":"0.2","u":1.1,"T":5.9},{"d":"0.2","u":1.2,"T":5.35},{"d":"0.2","u":1.3,"T":4.95},{"d":"0.2","u":1.4,"T":4.7},{"d":"0.2","u":1.5,"T":4.5}
],
"brm": [{"x":0.689,"y":-7.38,"txt":"u"}],
"brs": [{"x":0.766,"y":-9.23,"txt":"f"}],
"brt": [{"x":1.573,"y":34.7,"txt":"T"}]
},
"resolve": {"scale": {"x": "independent", "y": "independent", "color": "independent", "shape": "independent"}, "axis": {"x": "independent", "y": "independent"}, "legend": {"color": "independent", "shape": "independent"}},
"layer": [
{
  "resolve": {"axis": {"x": "independent", "y": "independent"}},
  "layer": [
    {"data": {"name": "tl"}, "mark": {"type": "line", "strokeWidth": 1.5},
     "encoding": {
       "x": {"field": "t", "type": "quantitative", "scale": {"domain": [0, 4.97], "range": [113, 448], "nice": false, "zero": false}, "axis": {"orient": "bottom", "offset": -789, "domain": true, "title": null, "values": [0,1,2,3,4], "tickSize": -8, "labelPadding": 26, "labelFont": "Liberation Sans", "labelFontSize": 28}},
       "y": {"field": "v", "type": "quantitative", "scale": {"domain": [0, 1.02], "range": [390, 6], "nice": false, "zero": false}, "axis": {"orient": "left", "offset": -113, "domain": true, "title": null, "values": [0,0.2,0.4,0.6,0.8,1], "format": "~g", "tickSize": -8, "labelPadding": 28, "labelFont": "Liberation Sans", "labelFontSize": 27}},
       "color": {"field": "s", "type": "nominal", "scale": {"domain": ["0.5","1","1.5","2","2.5","3"], "range": ["#d9282b","#a0cd32","#3c4db5","#a44fc0","#a3d8ea","#e8612c"]}, "legend": null}
     }},
    {"data": {"name": "tl"}, "mark": {"type": "point", "filled": false, "strokeWidth": 1.2, "size": 60},
     "encoding": {
       "x": {"field": "t", "type": "quantitative", "scale": {"domain": [0, 4.97], "range": [113, 448], "nice": false, "zero": false}, "axis": {"orient": "top", "offset": -6, "domain": true, "title": null, "values": [1,2,3,4], "tickSize": -8, "labels": false}},
       "y": {"field": "v", "type": "quantitative", "scale": {"domain": [0, 1.02], "range": [390, 6], "nice": false, "zero": false}, "axis": {"orient": "right", "offset": -504, "domain": true, "title": null, "values": [0,0.2,0.4,0.6,0.8,1], "tickSize": -8, "labels": false}},
       "color": {"field": "s", "type": "nominal", "scale": {"domain": ["0.5","1","1.5","2","2.5","3"], "range": ["#d9282b","#a0cd32","#3c4db5","#a44fc0","#a3d8ea","#e8612c"]}, "legend": null},
       "shape": {"field": "s", "type": "nominal", "scale": {"domain": ["0.5","1","1.5","2","2.5","3"], "range": ["circle","square","triangle-up","triangle-down","diamond","M0,-1L0.951,-0.309L0.588,0.809L-0.588,0.809L-0.951,-0.309Z"]}, "legend": null}
     }},
    {"data": {"name": "tld"}, "mark": {"type": "rule", "strokeDash": [13, 8], "strokeWidth": 2, "color": "#111111"},
     "encoding": {
       "x": {"field": "a", "type": "quantitative", "scale": {"domain": [0, 4.97], "range": [113, 448], "nice": false, "zero": false}, "axis": null},
       "x2": {"field": "b"},
       "y": {"field": "v", "type": "quantitative", "scale": {"domain": [0, 1.02], "range": [390, 6], "nice": false, "zero": false}, "axis": null}
     }},
    {"data": {"name": "tll"}, "mark": {"type": "text", "font": "Liberation Sans", "fontSize": 29, "align": "center", "baseline": "middle", "color": "#111111"},
     "encoding": {
       "x": {"field": "x", "type": "quantitative", "scale": {"domain": [0, 4.97], "range": [113, 448], "nice": false, "zero": false}, "axis": null},
       "y": {"field": "y", "type": "quantitative", "scale": {"domain": [0, 1.02], "range": [390, 6], "nice": false, "zero": false}, "axis": null},
       "text": {"field": "txt"}
     }},
    {"data": {"name": "tla"}, "mark": {"type": "text", "font": "DejaVu Sans", "fontSize": 27, "align": "center", "baseline": "middle", "color": "#111111"},
     "encoding": {
       "x": {"field": "x", "type": "quantitative", "scale": {"domain": [0, 4.97], "range": [113, 448], "nice": false, "zero": false}, "axis": null},
       "y": {"field": "y", "type": "quantitative", "scale": {"domain": [0, 1.02], "range": [390, 6], "nice": false, "zero": false}, "axis": null},
       "text": {"field": "txt"}
     }},
    {"data": {"name": "tly"}, "mark": {"type": "text", "font": "Liberation Sans", "fontSize": 25, "angle": 270, "align": "center", "baseline": "middle", "color": "#111111"},
     "encoding": {
       "x": {"field": "x", "type": "quantitative", "scale": {"domain": [0, 4.97], "range": [113, 448], "nice": false, "zero": false}, "axis": null},
       "y": {"field": "y", "type": "quantitative", "scale": {"domain": [0, 1.02], "range": [390, 6], "nice": false, "zero": false}, "axis": null},
       "text": {"field": "txt"}
     }}
  ]
},
{
  "resolve": {"axis": {"x": "independent", "y": "independent"}},
  "layer": [
    {"data": {"name": "tr"}, "mark": {"type": "line", "strokeWidth": 1.5},
     "encoding": {
       "x": {"field": "t", "type": "quantitative", "scale": {"domain": [0, 3.49], "range": [465, 930], "nice": false, "zero": false}, "axis": {"orient": "bottom", "offset": -789, "domain": true, "title": null, "values": [0,1,2,3], "tickSize": -9, "labelPadding": 22, "labelFont": "Liberation Sans", "labelFontSize": 32}},
       "y": {"field": "v", "type": "quantitative", "scale": {"domain": [0, 1.02], "range": [390, 6], "nice": false, "zero": false}, "axis": {"orient": "left", "offset": -465, "domain": true, "title": null, "values": [0,0.2,0.4,0.6,0.8,1], "tickSize": -9, "labels": false}},
       "color": {"field": "s", "type": "nominal", "scale": {"domain": ["3.3","4","5","6","8"], "range": ["#d9282b","#a0cd32","#3c4db5","#a44fc0","#a3d8ea"]}, "legend": null}
     }},
    {"data": {"name": "tr"}, "mark": {"type": "point", "filled": false, "strokeWidth": 1.3, "size": 80},
     "encoding": {
       "x": {"field": "t", "type": "quantitative", "scale": {"domain": [0, 3.49], "range": [465, 930], "nice": false, "zero": false}, "axis": {"orient": "top", "offset": -6, "domain": true, "title": null, "values": [1,2,3], "tickSize": -9, "labels": false}},
       "y": {"field": "v", "type": "quantitative", "scale": {"domain": [0, 1.02], "range": [390, 6], "nice": false, "zero": false}, "axis": {"orient": "right", "offset": -22, "domain": true, "title": null, "values": [0,0.2,0.4,0.6,0.8,1], "tickSize": -9, "labels": false}},
       "color": {"field": "s", "type": "nominal", "scale": {"domain": ["3.3","4","5","6","8"], "range": ["#d9282b","#a0cd32","#3c4db5","#a44fc0","#a3d8ea"]}, "legend": null},
       "shape": {"field": "s", "type": "nominal", "scale": {"domain": ["3.3","4","5","6","8"], "range": ["circle","square","triangle-up","triangle-down","diamond"]}, "legend": null}
     }},
    {"data": {"name": "trl"}, "mark": {"type": "text", "font": "Liberation Sans", "fontSize": 29, "align": "center", "baseline": "middle", "color": "#111111"},
     "encoding": {
       "x": {"field": "x", "type": "quantitative", "scale": {"domain": [0, 3.49], "range": [465, 930], "nice": false, "zero": false}, "axis": null},
       "y": {"field": "y", "type": "quantitative", "scale": {"domain": [0, 1.02], "range": [390, 6], "nice": false, "zero": false}, "axis": null},
       "text": {"field": "txt"}
     }},
    {"data": {"name": "tra"}, "mark": {"type": "text", "font": "DejaVu Sans", "fontSize": 26, "fontWeight": "bold", "angle": 18, "align": "center", "baseline": "middle", "color": "#111111"},
     "encoding": {
       "x": {"field": "x", "type": "quantitative", "scale": {"domain": [0, 3.49], "range": [465, 930], "nice": false, "zero": false}, "axis": null},
       "y": {"field": "y", "type": "quantitative", "scale": {"domain": [0, 1.02], "range": [390, 6], "nice": false, "zero": false}, "axis": null},
       "text": {"field": "txt"}
     }}
  ]
},
{
  "resolve": {"axis": {"x": "independent", "y": "independent"}},
  "layer": [
    {"data": {"name": "bl1"}, "mark": {"type": "line", "color": "#111111", "strokeWidth": 2, "interpolate": "monotone"},
     "encoding": {
       "x": {"field": "t", "type": "quantitative", "scale": {"domain": [0, 50], "range": [110, 484], "nice": false, "zero": false}, "axis": {"orient": "bottom", "offset": -423, "domain": true, "title": null, "values": [0,10,20,30,40,50], "tickSize": -16, "labelPadding": 20, "labelFont": "Liberation Serif", "labelFontSize": 30}},
       "y": {"field": "z", "type": "quantitative", "scale": {"domain": [0, 1], "range": [756, 529], "nice": false, "zero": false}, "axis": {"orient": "left", "offset": -110, "domain": true, "title": null, "values": [0,0.2,0.4,0.6,0.8,1], "format": "~g", "tickSize": -16, "labelPadding": 24, "labelFont": "Liberation Serif", "labelFontSize": 27}}
     }},
    {"data": {"name": "bl1"}, "mark": {"type": "line", "color": "#d42a2a", "strokeWidth": 2, "strokeDash": [14, 7, 3, 7], "interpolate": "monotone"},
     "encoding": {
       "x": {"field": "t", "type": "quantitative", "scale": {"domain": [0, 50], "range": [110, 484], "nice": false, "zero": false}, "axis": {"orient": "bottom", "offset": -423, "title": null, "values": [5,15,25,35,45], "tickSize": -8, "labels": false}},
       "y": {"field": "d", "type": "quantitative", "scale": {"domain": [0, 1], "range": [756, 529], "nice": false, "zero": false}, "axis": {"orient": "left", "offset": -110, "title": null, "values": [0.1,0.3,0.5,0.7,0.9], "tickSize": -8, "labels": false}}
     }},
    {"data": {"name": "b1m"}, "mark": {"type": "text", "font": "Liberation Serif", "fontSize": 33, "align": "left", "baseline": "alphabetic", "color": "#111111"},
     "encoding": {
       "x": {"field": "x", "type": "quantitative", "scale": {"domain": [0, 50], "range": [110, 484], "nice": false, "zero": false}, "axis": {"orient": "top", "offset": -529, "domain": true, "ticks": false, "labels": false, "title": null}},
       "y": {"field": "y", "type": "quantitative", "scale": {"domain": [0, 1], "range": [756, 529], "nice": false, "zero": false}, "axis": {"orient": "right", "offset": -468, "domain": true, "title": null, "values": [0.2,0.4,0.6,0.8], "tickSize": -16, "labels": false}},
       "text": {"field": "txt"}
     }},
    {"data": {"name": "b1s"}, "mark": {"type": "text", "font": "Liberation Serif", "fontSize": 23, "align": "left", "baseline": "alphabetic", "color": "#111111"},
     "encoding": {
       "x": {"field": "x", "type": "quantitative", "scale": {"domain": [0, 50], "range": [110, 484], "nice": false, "zero": false}, "axis": null},
       "y": {"field": "y", "type": "quantitative", "scale": {"domain": [0, 1], "range": [756, 529], "nice": false, "zero": false}, "axis": {"orient": "right", "offset": -468, "title": null, "values": [0.1,0.3,0.5,0.7,0.9], "tickSize": -8, "labels": false}},
       "text": {"field": "txt"}
     }},
    {"data": {"name": "b1z"}, "mark": {"type": "text", "font": "Liberation Serif", "fontSize": 33, "align": "center", "baseline": "middle", "color": "#111111"},
     "encoding": {
       "x": {"field": "x", "type": "quantitative", "scale": {"domain": [0, 50], "range": [110, 484], "nice": false, "zero": false}, "axis": null},
       "y": {"field": "y", "type": "quantitative", "scale": {"domain": [0, 1], "range": [756, 529], "nice": false, "zero": false}, "axis": null},
       "text": {"field": "txt"}
     }},
    {"data": {"name": "b1d"}, "mark": {"type": "text", "font": "Liberation Serif", "fontSize": 33, "align": "center", "baseline": "middle", "color": "#d42a2a"},
     "encoding": {
       "x": {"field": "x", "type": "quantitative", "scale": {"domain": [0, 50], "range": [110, 484], "nice": false, "zero": false}, "axis": null},
       "y": {"field": "y", "type": "quantitative", "scale": {"domain": [0, 1], "range": [756, 529], "nice": false, "zero": false}, "axis": null},
       "text": {"field": "txt"}
     }},
    {"data": {"name": "b1az"}, "mark": {"type": "rule", "color": "#111111", "strokeWidth": 1.5},
     "encoding": {
       "x": {"field": "x1", "type": "quantitative", "scale": {"domain": [0, 50], "range": [110, 484], "nice": false, "zero": false}, "axis": null},
       "x2": {"field": "x2"},
       "y": {"field": "y1", "type": "quantitative", "scale": {"domain": [0, 1], "range": [756, 529], "nice": false, "zero": false}, "axis": null},
       "y2": {"field": "y2"}
     }},
    {"data": {"name": "b1az"}, "mark": {"type": "point", "shape": "M-0.45,1.2L0,0L0.45,1.2", "filled": false, "size": 200, "angle": 45, "color": "#111111", "strokeWidth": 1.5, "opacity": 1},
     "encoding": {
       "x": {"field": "x2", "type": "quantitative", "scale": {"domain": [0, 50], "range": [110, 484], "nice": false, "zero": false}, "axis": null},
       "y": {"field": "y2", "type": "quantitative", "scale": {"domain": [0, 1], "range": [756, 529], "nice": false, "zero": false}, "axis": null}
     }},
    {"data": {"name": "b1ad"}, "mark": {"type": "rule", "color": "#d42a2a", "strokeWidth": 1.5},
     "encoding": {
       "x": {"field": "x1", "type": "quantitative", "scale": {"domain": [0, 50], "range": [110, 484], "nice": false, "zero": false}, "axis": null},
       "x2": {"field": "x2"},
       "y": {"field": "y1", "type": "quantitative", "scale": {"domain": [0, 1], "range": [756, 529], "nice": false, "zero": false}, "axis": null},
       "y2": {"field": "y2"}
     }},
    {"data": {"name": "b1ad"}, "mark": {"type": "point", "shape": "M-0.45,1.2L0,0L0.45,1.2", "filled": false, "size": 200, "angle": 234, "color": "#d42a2a", "strokeWidth": 1.5, "opacity": 1},
     "encoding": {
       "x": {"field": "x2", "type": "quantitative", "scale": {"domain": [0, 50], "range": [110, 484], "nice": false, "zero": false}, "axis": null},
       "y": {"field": "y2", "type": "quantitative", "scale": {"domain": [0, 1], "range": [756, 529], "nice": false, "zero": false}, "axis": null}
     }}
  ]
},
{
  "resolve": {"axis": {"x": "independent", "y": "independent"}},
  "layer": [
    {"data": {"name": "bl2"}, "mark": {"type": "line", "color": "#111111", "strokeWidth": 2, "interpolate": "monotone"},
     "encoding": {
       "x": {"field": "t", "type": "quantitative", "scale": {"domain": [0, 50], "range": [109, 483], "nice": false, "zero": false}, "axis": {"orient": "bottom", "offset": -82, "domain": true, "title": null, "values": [0,10,20,30,40,50], "tickSize": -16, "labelPadding": 20, "labelFont": "Liberation Serif", "labelFontSize": 30}},
       "y": {"field": "z", "type": "quantitative", "scale": {"domain": [0, 1], "range": [1097, 838], "nice": false, "zero": false}, "axis": {"orient": "left", "offset": -109, "domain": true, "title": null, "values": [0,0.2,0.4,0.6,0.8,1], "format": "~g", "tickSize": -16, "labelPadding": 24, "labelFont": "Liberation Serif", "labelFontSize": 31}}
     }},
    {"data": {"name": "bl2"}, "mark": {"type": "line", "color": "#d42a2a", "strokeWidth": 2, "strokeDash": [10, 6, 2, 6]},
     "encoding": {
       "x": {"field": "t", "type": "quantitative", "scale": {"domain": [0, 50], "range": [109, 483], "nice": false, "zero": false}, "axis": {"orient": "bottom", "offset": -82, "title": null, "values": [5,15,25,35,45], "tickSize": -8, "labels": false}},
       "y": {"field": "d", "type": "quantitative", "scale": {"domain": [0, 1], "range": [1097, 838], "nice": false, "zero": false}, "axis": {"orient": "left", "offset": -109, "title": null, "values": [0.1,0.3,0.5,0.7,0.9], "tickSize": -8, "labels": false}}
     }},
    {"data": {"name": "b2m"}, "mark": {"type": "text", "font": "Liberation Serif", "fontSize": 33, "align": "left", "baseline": "alphabetic", "color": "#111111"},
     "encoding": {
       "x": {"field": "x", "type": "quantitative", "scale": {"domain": [0, 50], "range": [109, 483], "nice": false, "zero": false}, "axis": {"orient": "top", "offset": -838, "domain": true, "ticks": false, "labels": false, "title": null}},
       "y": {"field": "y", "type": "quantitative", "scale": {"domain": [0, 1], "range": [1097, 838], "nice": false, "zero": false}, "axis": {"orient": "right", "offset": -469, "domain": true, "title": null, "values": [0.2,0.4,0.6,0.8], "tickSize": -16, "labels": false}},
       "text": {"field": "txt"}
     }},
    {"data": {"name": "b2s"}, "mark": {"type": "text", "font": "Liberation Serif", "fontSize": 23, "align": "left", "baseline": "alphabetic", "color": "#111111"},
     "encoding": {
       "x": {"field": "x", "type": "quantitative", "scale": {"domain": [0, 50], "range": [109, 483], "nice": false, "zero": false}, "axis": null},
       "y": {"field": "y", "type": "quantitative", "scale": {"domain": [0, 1], "range": [1097, 838], "nice": false, "zero": false}, "axis": {"orient": "right", "offset": -469, "title": null, "values": [0.1,0.3,0.5,0.7,0.9], "tickSize": -8, "labels": false}},
       "text": {"field": "txt"}
     }}
  ]
},
{
  "resolve": {"axis": {"x": "independent", "y": "independent"}},
  "layer": [
    {"data": {"name": "br"}, "mark": {"type": "line", "strokeWidth": 2.5, "interpolate": "monotone"},
     "encoding": {
       "x": {"field": "u", "type": "quantitative", "scale": {"domain": [0, 1.5], "range": [551, 919], "nice": false, "zero": false}, "axis": {"orient": "bottom", "offset": -82, "domain": true, "title": null, "values": [0,0.5,1,1.5], "format": "~g", "tickSize": -16, "labelPadding": 20, "labelFont": "Liberation Serif", "labelFontSize": 32}},
       "y": {"field": "T", "type": "quantitative", "scale": {"domain": [0, 70], "range": [1097, 528], "nice": false, "zero": false}, "axis": {"orient": "left", "offset": -551, "domain": true, "title": null, "values": [0,10,20,30,40,50,60,70], "tickSize": -16, "labelPadding": 24, "labelFont": "Liberation Serif", "labelFontSize": 32}},
       "color": {"field": "d", "type": "nominal", "scale": {"domain": ["0.0","0.05","0.1","0.2"], "range": ["#111111","#d32b2b","#4250c0","#f0a830"]},
         "legend": {"orient": "none", "legendX": 728, "legendY": 569, "title": null, "symbolType": "stroke", "symbolStrokeWidth": 2.5, "symbolSize": 1000, "labelFont": "Liberation Serif", "labelFontSize": 31, "labelColor": "#111111", "labelExpr": "'δ = ' + datum.label", "labelOffset": 17, "strokeColor": "#333333", "fillColor": "white", "padding": 10, "rowPadding": 2}}
     }},
    {"data": {"name": "brm"}, "mark": {"type": "text", "font": "Liberation Serif", "fontSize": 38, "align": "left", "baseline": "alphabetic", "color": "#111111"},
     "encoding": {
       "x": {"field": "x", "type": "quantitative", "scale": {"domain": [0, 1.5], "range": [551, 919], "nice": false, "zero": false}, "axis": {"orient": "bottom", "offset": -82, "title": null, "values": [0.25,0.75,1.25], "tickSize": -8, "labels": false}},
       "y": {"field": "y", "type": "quantitative", "scale": {"domain": [0, 70], "range": [1097, 528], "nice": false, "zero": false}, "axis": {"orient": "left", "offset": -551, "title": null, "values": [5,15,25,35,45,55,65], "tickSize": -8, "labels": false}},
       "text": {"field": "txt"}
     }},
    {"data": {"name": "brs"}, "mark": {"type": "text", "font": "Liberation Serif", "fontSize": 26, "align": "left", "baseline": "alphabetic", "color": "#111111"},
     "encoding": {
       "x": {"field": "x", "type": "quantitative", "scale": {"domain": [0, 1.5], "range": [551, 919], "nice": false, "zero": false}, "axis": {"orient": "top", "offset": -528, "domain": true, "title": null, "values": [0.5,1], "tickSize": -16, "labels": false}},
       "y": {"field": "y", "type": "quantitative", "scale": {"domain": [0, 70], "range": [1097, 528], "nice": false, "zero": false}, "axis": {"orient": "right", "offset": -33, "domain": true, "title": null, "values": [10,20,30,40,50,60], "tickSize": -16, "labels": false}},
       "text": {"field": "txt"}
     }},
    {"data": {"name": "brt"}, "mark": {"type": "text", "font": "Liberation Serif", "fontSize": 36, "align": "center", "baseline": "middle", "color": "#111111"},
     "encoding": {
       "x": {"field": "x", "type": "quantitative", "scale": {"domain": [0, 1.5], "range": [551, 919], "nice": false, "zero": false}, "axis": {"orient": "top", "offset": -528, "title": null, "values": [0.25,0.75,1.25], "tickSize": -8, "labels": false}},
       "y": {"field": "y", "type": "quantitative", "scale": {"domain": [0, 70], "range": [1097, 528], "nice": false, "zero": false}, "axis": {"orient": "right", "offset": -33, "title": null, "values": [5,15,25,35,45,55,65], "tickSize": -8, "labels": false}},
       "text": {"field": "txt"}
     }}
  ]
}
]
}
